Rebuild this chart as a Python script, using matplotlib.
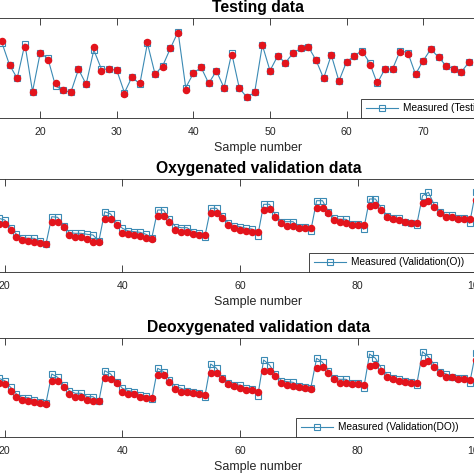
import matplotlib
matplotlib.use('Agg')
import matplotlib.pyplot as plt

plt.rcParams['font.family'] = ['Liberation Sans', 'DejaVu Sans']

# testing data (sample 15..76)
x_test = list(range(15, 77))
test_measured = [75.3, 53, 39.7, 74, 26.5, 65, 59.7, 32, 27.7, 25.7, 48.7, 33.7, 68, 48.7, 49, 47.7,
                 25.3, 41.3, 33.7, 74.7, 43.7, 52.3, 69.7, 86.3, 30.3, 44.7, 50.7, 34.7, 47, 30.3,
                 64.7, 29.7, 20.7, 25.7, 73, 47.3, 62, 55.3, 64.7, 69.7, 71.3, 58, 39.7, 63, 37,
                 56.3, 62, 67.3, 55.3, 34.7, 49, 49, 67.3, 65.3, 43.7, 57.3, 69, 60.7, 52.3, 49,
                 46.3, 56]
test_predicted = [77, 53, 39.7, 71.3, 26, 64.7, 58, 34.7, 27.7, 25.7, 48.7, 33.7, 70.7, 47, 49, 47.7,
                  23.7, 41.3, 35.3, 76.3, 43.7, 50.7, 69.7, 84.7, 28, 44.7, 50.7, 34.7, 47, 30.3,
                  62.7, 29.7, 20.7, 25.7, 73, 47.3, 62, 55.3, 64.7, 69.7, 71.3, 58, 39.7, 63, 37,
                  56.3, 62, 65.7, 53, 35.7, 49, 49, 66.3, 64, 43.7, 57.3, 69, 60.7, 52.3, 49,
                  46.3, 56]
test_ticks = [20, 30, 40, 50, 60, 70]

# validation data (sample 19..100)
x_val = list(range(19, 101))
oxy_measured = [53.7, 52, 44.3, 37.7, 34.3, 33.7, 33.7, 31, 27.7,
                55.3, 54.7, 46.3, 39.3, 38.7, 38.7, 37.7, 37, 31,
                60.3, 58, 49.3, 43.7, 41, 40.3, 39.7, 37.7, 34.3,
                62, 62, 52.7, 45.3, 44.3, 44.3, 40.3, 39.3, 35.3,
                63.7, 63.7, 56.3, 48.7, 46.3, 45.3, 43.7, 43, 36.3,
                67.7, 67.7, 57, 50.3, 50.3, 50.3, 44.7, 44.7, 41,
                71.3, 71.3, 60.3, 53.7, 52.7, 52.7, 48, 48, 42.7,
                73, 73, 63.7, 56.3, 53.7, 53.7, 50.3, 49.3, 47,
                76.3, 79.7, 67, 60.3, 57, 57, 54.3, 53.7, 48.7,
                79.7]
oxy_predicted = [47.7, 47.7, 42, 35.3, 32, 31.3, 30.3, 28.7, 27.7,
                 50.3, 50.3, 44.7, 37, 34.7, 34.7, 32.7, 30.3, 29.7,
                 52.7, 52.7, 47, 38.7, 37.7, 37, 36, 33.7, 33,
                 56, 56, 50.3, 42, 40.3, 40.3, 37.7, 37, 37,
                 58.7, 58.7, 53.7, 47, 44.3, 42, 41, 40.3, 39.7,
                 62, 62.7, 55.3, 48.7, 46.3, 46.3, 43.7, 43.7, 43.7,
                 63.7, 64.3, 58.7, 52, 49.7, 49.3, 47, 47, 47,
                 66.3, 67, 62, 54.7, 52.7, 52, 50.3, 49.3, 49.3,
                 68.7, 71, 65.3, 58.7, 55.3, 55.3, 53, 52.7, 52.7,
                 72]
deoxy_measured = [58.7, 56.3, 49.7, 43, 39.3, 39.3, 37, 35.3, 33.7,
                  63, 59.7, 52, 46.3, 43.7, 43.7, 40.3, 40.3, 36,
                  66.3, 63, 55.3, 48.7, 46.3, 45.3, 42, 41, 37.7,
                  68.7, 65.3, 57, 50.3, 48.7, 46.3, 44.7, 43.7, 40.3,
                  73, 68.7, 58.7, 54.3, 52, 52, 48.7, 47.7, 41,
                  77, 72, 63, 56.3, 55.3, 54.7, 51, 49.7, 48.7,
                  78.7, 74.7, 66.3, 58.7, 57.7, 57.7, 53.7, 53.7, 48.7,
                  83, 78.7, 68.7, 62, 58.7, 57.7, 56.3, 55.3, 52,
                  85.3, 80.3, 72, 65.3, 63, 60.3, 58.7, 58.7, 53.7,
                  83.7]
deoxy_predicted = [53.7, 52.7, 46.3, 39.7, 37, 36.3, 35.3, 33.7, 33,
                   56.3, 56, 50.3, 43, 40.3, 40.3, 37, 36.3, 36.3,
                   58.7, 58, 53.7, 45.3, 43, 43, 40.3, 38.7, 38.7,
                   62, 62, 55.3, 47.7, 45.3, 44.7, 43.7, 42.7, 42,
                   64.3, 64.3, 57.7, 52.7, 51, 48.7, 47, 47, 45.3,
                   66.3, 66.3, 61, 54.3, 52, 51, 49.7, 48.7, 47.7,
                   68.7, 69.7, 64.3, 57.7, 54.3, 53.7, 52.7, 52.7, 52,
                   71, 72, 66.3, 59.7, 57.7, 56, 55.3, 54.3, 54.3,
                   73.7, 76, 70.3, 63.7, 60.3, 59.7, 57.7, 57.7, 57,
                   77]
val_ticks = [20, 40, 60, 80, 100]

blue = '#3b8ab4'
red = '#e3141c'
grey = '#262626'

fig = plt.figure(figsize=(4.74, 4.74), dpi=100)

# axes are wider than the picture (the reference is a crop of a bigger figure)
left = -113 / 474
width = 743 / 474
panels = [
    # x, measured, predicted, title, label suffix, bottom, height, xmax, ticks, ymax, legend x
    (x_test, test_measured, test_predicted, 'Testing data', 'Testing', 356 / 474, 100 / 474, 97.0, test_ticks, 100, 0.638),
    (x_val, oxy_measured, oxy_predicted, 'Oxygenated validation data', 'Validation(O)', 202 / 474, 93 / 474, 126.25, val_ticks, 93, 0.568),
    (x_val, deoxy_measured, deoxy_predicted, 'Deoxygenated validation data', 'Validation(DO)', 37 / 474, 99 / 474, 126.25, val_ticks, 99, 0.551),
]

for xs, meas, pred, title, suffix, bottom, height, xmax, ticks, ymax, legx in panels:
    ax = fig.add_axes([left, bottom, width, height])
    ax.plot(xs, meas, '-s', color=blue, lw=0.8, ms=4.6, mfc='none', mec=blue, mew=0.8,
            label='Measured (' + suffix + ')')
    ax.plot(xs, pred, 'o', color=red, ms=4.4, mfc=red, mec=red, label='Predicted (' + suffix + ')')
    ax.set_xlim(0, xmax)
    ax.set_ylim(0, ymax)
    ax.set_xticks(ticks)
    ax.set_yticks([])
    ax.tick_params(axis='x', direction='in', top=True, length=5.3, width=0.6, pad=6.3,
                   labelsize=7.6, colors=grey)
    for s in ax.spines.values():
        s.set_color(grey)
        s.set_linewidth(0.6)
    ax.set_title(title, fontsize=11.3, fontweight='bold', pad=4.5)
    ax.set_xlabel('Sample number', fontsize=9, color=grey, labelpad=4)
    leg = ax.legend(loc='lower left', bbox_to_anchor=(legx, 0), borderaxespad=0, ncol=2,
                    fontsize=7.3, fancybox=False, framealpha=1, edgecolor=grey,
                    handlelength=3.2, handletextpad=0.5, borderpad=0.45, columnspacing=2)
    leg.get_frame().set_linewidth(0.6)

plt.savefig('out.png', dpi=100)
